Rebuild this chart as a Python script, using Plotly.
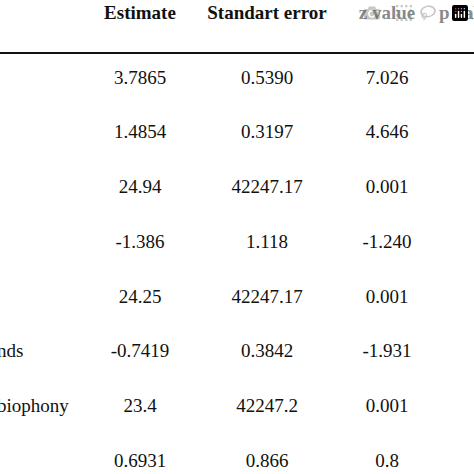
import plotly.graph_objects as go

headers = ["Estimate", "Standart error", "z value", "p value"]
row_labels = ["", "", "", "", "", "nds", "biophony", ""]
estimate = ["3.7865", "1.4854", "24.94", "-1.386", "24.25", "-0.7419", "23.4", "0.6931"]
std_error = ["0.5390", "0.3197", "42247.17", "1.118", "42247.17", "0.3842", "42247.2", "0.866"]
z_value = ["7.026", "4.646", "0.001", "-1.240", "0.001", "-1.931", "0.001", "0.8"]

col_x = [140, 267, 387]
p_x = 439
row_y = [79 + 54.7 * i for i in range(len(estimate))]
font = dict(family="Liberation Serif, Times New Roman, serif", size=19, color="#111")

fig = go.Figure()
fig.add_trace(go.Scatter(x=col_x, y=[14] * 3, text=[f"<b>{h}</b>" for h in headers[:3]],
                         mode="text", textposition="middle center", textfont=font,
                         hoverinfo="skip"))
fig.add_trace(go.Scatter(x=[p_x], y=[14], text=[f"<b>{headers[3]}</b>"], mode="text",
                         textposition="middle right", textfont=font, hoverinfo="skip"))
for cx, col in zip(col_x, [estimate, std_error, z_value]):
    fig.add_trace(go.Scatter(x=[cx] * len(col), y=row_y, text=col, mode="text",
                             textposition="middle center", textfont=font, hoverinfo="skip"))
fig.add_trace(go.Scatter(x=[-3] * len(row_labels), y=row_y, text=row_labels, mode="text",
                         textposition="middle right", textfont=font, hoverinfo="skip"))

fig.add_shape(type="line", x0=0, x1=474, y0=53, y1=53, line=dict(color="#111", width=2))
fig.update_layout(width=474, height=474, margin=dict(l=0, r=0, t=0, b=0),
                  paper_bgcolor="white", plot_bgcolor="white", showlegend=False,
                  xaxis=dict(range=[0, 474], visible=False, fixedrange=True),
                  yaxis=dict(range=[474, 0], visible=False, fixedrange=True))
fig.write_html("out.html", post_script="document.body.style.margin='0';document.body.style.overflow='hidden';")
